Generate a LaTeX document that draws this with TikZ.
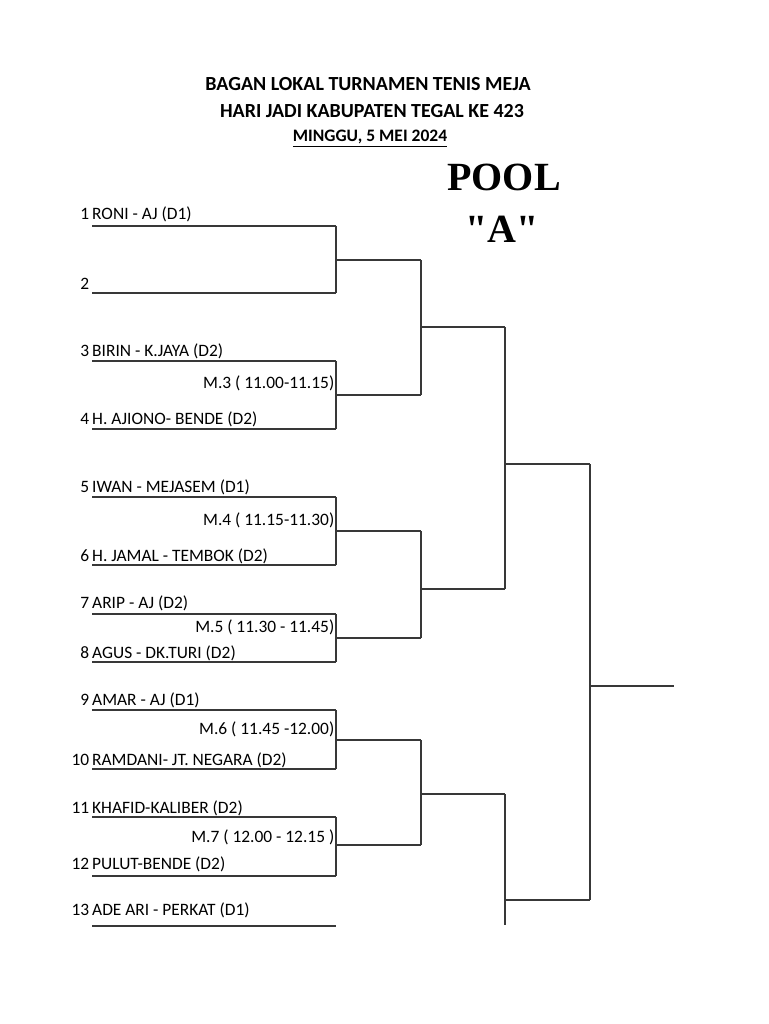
\documentclass[tikz,border=0pt]{standalone}
\usepackage{fontspec}
\setmainfont{Carlito}
\newfontfamily\tnr{Liberation Serif}
\begin{document}
\begin{tikzpicture}[x=1pt,y=-1pt,
  ln/.style={line width=1.1pt, draw=black!78},
  nm/.style={anchor=base west, inner sep=0pt, font=\fontsize{17.4}{20}\selectfont},
  num/.style={anchor=base east, inner sep=0pt, font=\fontsize{17.4}{20}\selectfont},
  mt/.style={anchor=base east, inner sep=0pt, font=\fontsize{17.4}{20}\selectfont},
  ttl/.style={anchor=base, inner sep=0pt, font=\bfseries\fontsize{20}{24}\selectfont},
  pool/.style={anchor=base, inner sep=0pt, font=\tnr\bfseries\fontsize{40}{44}\selectfont}]
\useasboundingbox[fill=white] (0,0) rectangle (768,1024);
% titles
\node[ttl] (t1) at (368,91) {BAGAN LOKAL TURNAMEN TENIS MEJA};
\node[ttl] (t2) at (372,118) {HARI JADI KABUPATEN TEGAL KE 423};
\node[ttl, font=\bfseries\fontsize{17.5}{20}\selectfont] (t3) at (370,142) {\underline{MINGGU, 5 MEI 2024}};
\node[pool] (pa) at (504,191) {POOL};
\node[pool] (pb) at (502,242) {"A"};
% player lines
\foreach \i/\y in {1/226,2/293,3/361,4/429,5/497,6/565,7/614,8/662,9/710,10/769,11/817,12/876,13/926}{
  \coordinate (a\i) at (92,\y);
  \coordinate (b\i) at (336,\y);
  \draw[ln] (a\i) -- (b\i);
}
% numbers and names
\foreach \i/\y/\t in {1/220/{RONI - AJ (D1)},2/289/{},3/356/{BIRIN - K.JAYA (D2)},4/424/{H. AJIONO- BENDE (D2)},
  5/492/{IWAN - MEJASEM (D1)},6/561/{H. JAMAL - TEMBOK (D2)},7/608/{ARIP - AJ (D2)},8/658/{AGUS - DK.TURI (D2)},
  9/705/{AMAR - AJ (D1)},10/765/{RAMDANI- JT. NEGARA (D2)},11/813/{KHAFID-KALIBER (D2)},12/869/{PULUT-BENDE (D2)},
  13/915/{ADE ARI - PERKAT (D1)}}{
  \node[num] (n\i) at (89.5,\y) {\i};
  \node[nm] (p\i) at (92,\y) {\t};
}
% match labels
\node[mt] (m3) at (334.5,388) {M.3 ( 11.00-11.15)};
\node[mt] (m4) at (334.5,525) {M.4 ( 11.15-11.30)};
\node[mt] (m5) at (334.5,632) {M.5 ( 11.30 - 11.45)};
\node[mt] (m6) at (334.5,734) {M.6 ( 11.45 -12.00)};
\node[mt] (m7) at (334.5,842) {M.7 ( 12.00 - 12.15 )};
% round 1 joins
\coordinate (r1a) at (336,260); \coordinate (r1aa) at (421,260);
\coordinate (r1b) at (336,395); \coordinate (r1bb) at (421,395);
\coordinate (r1c) at (336,531); \coordinate (r1cc) at (421,531);
\coordinate (r1d) at (336,638); \coordinate (r1dd) at (421,638);
\coordinate (r1e) at (336,740); \coordinate (r1ee) at (421,740);
\coordinate (r1f) at (336,845); \coordinate (r1ff) at (421,845);
\draw[ln] (b1) -- (b2); \draw[ln] (r1a) -- (r1aa);
\draw[ln] (b3) -- (b4); \draw[ln] (r1b) -- (r1bb);
\draw[ln] (b5) -- (b6); \draw[ln] (r1c) -- (r1cc);
\draw[ln] (b7) -- (b8); \draw[ln] (r1d) -- (r1dd);
\draw[ln] (b9) -- (b10); \draw[ln] (r1e) -- (r1ee);
\draw[ln] (b11) -- (b12); \draw[ln] (r1f) -- (r1ff);
% round 2
\coordinate (r2a) at (421,327); \coordinate (r2aa) at (505,327);
\coordinate (r2b) at (421,589); \coordinate (r2bb) at (505,589);
\coordinate (r2c) at (421,794); \coordinate (r2cc) at (505,794);
\draw[ln] (r1aa) -- (r1bb); \draw[ln] (r2a) -- (r2aa);
\draw[ln] (r1cc) -- (r1dd); \draw[ln] (r2b) -- (r2bb);
\draw[ln] (r1ee) -- (r1ff); \draw[ln] (r2c) -- (r2cc);
% round 3
\coordinate (r3a) at (505,464); \coordinate (r3aa) at (590,464);
\coordinate (r3end) at (505,925);
\coordinate (r3b) at (505,900); \coordinate (r3bb) at (590,900);
\draw[ln] (r2aa) -- (r2bb); \draw[ln] (r3a) -- (r3aa);
\draw[ln] (r2cc) -- (r3end); \draw[ln] (r3b) -- (r3bb);
% final
\coordinate (f1) at (590,686); \coordinate (f2) at (674,686);
\draw[ln] (r3aa) -- (r3bb); \draw[ln] (f1) -- (f2);
\end{tikzpicture}
\end{document}
